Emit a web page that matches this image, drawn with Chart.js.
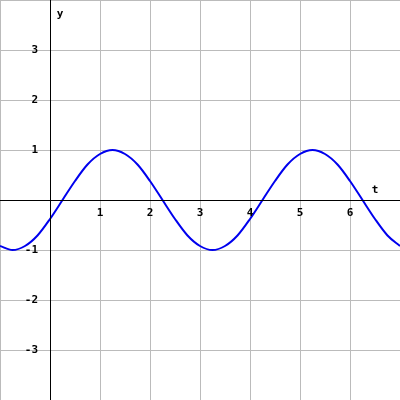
<!DOCTYPE html>
<html>
<head>
<script src="https://cdn.jsdelivr.net/npm/chart.js@4"></script>
<style>
  html, body { margin: 0; padding: 0; background: #fff; }
  #wrap { width: 400px; height: 400px; }
</style>
</head>
<body>
<div id="wrap"><canvas id="chartWave"></canvas></div>
<script>
// t values and y values
const tVals = [-1, -0.75, -0.5, -0.25, 0, 0.25, 0.5, 0.75, 1, 1.25, 1.5, 1.75, 2, 2.25, 2.5, 2.75, 3,
               3.25, 3.5, 3.75, 4, 4.25, 4.5, 4.75, 5, 5.25, 5.5, 5.75, 6, 6.25, 6.5, 6.75, 7];
const yVals = [-0.92, -1, -0.92, -0.71, -0.38, 0, 0.38, 0.71, 0.92, 1, 0.92, 0.71, 0.38, 0, -0.38, -0.71, -0.92,
               -1, -0.92, -0.71, -0.38, 0, 0.38, 0.71, 0.92, 1, 0.92, 0.71, 0.38, 0, -0.38, -0.71, -0.92];
const xTickLabels = [1, 2, 3, 4, 5, 6];
const yTickLabels = [-3, -2, -1, 1, 2, 3];

const points = tVals.map((t, i) => ({ x: t, y: yVals[i] }));

// draw axes and labels inside the plot, like the original
const axesPlugin = {
    id: 'axesInside',
    afterDatasetsDraw(c) {
        const ctx = c.ctx;
        const xs = c.scales.x, ys = c.scales.y;
        const x0 = xs.getPixelForValue(0), y0 = ys.getPixelForValue(0);
        ctx.save();
        ctx.strokeStyle = '#000';
        ctx.lineWidth = 1;
        ctx.beginPath();
        ctx.moveTo(c.chartArea.left, Math.round(y0) + 0.5);
        ctx.lineTo(c.chartArea.right, Math.round(y0) + 0.5);
        ctx.moveTo(Math.round(x0) + 0.5, c.chartArea.top);
        ctx.lineTo(Math.round(x0) + 0.5, c.chartArea.bottom);
        ctx.stroke();
        ctx.fillStyle = '#000';
        ctx.font = 'bold 11px "DejaVu Sans Mono"';
        ctx.textAlign = 'center';
        ctx.textBaseline = 'middle';
        xTickLabels.forEach(v => ctx.fillText(String(v), xs.getPixelForValue(v), y0 + 13));
        ctx.textAlign = 'right';
        yTickLabels.forEach(v => ctx.fillText(String(v), x0 - 12, ys.getPixelForValue(v)));
        ctx.textAlign = 'center';
        ctx.fillText('y', x0 + 10, 14);
        ctx.fillText('t', 375, y0 - 10);
        ctx.restore();
    }
};

new Chart(document.getElementById('chartWave').getContext('2d'), {
    type: 'line',
    data: {
        datasets: [{
            data: points,
            borderColor: '#0000ee',
            borderWidth: 2,
            pointRadius: 0,
            cubicInterpolationMode: 'monotone',
            fill: false
        }]
    },
    options: {
        responsive: true,
        maintainAspectRatio: false,
        animation: false,
        layout: { padding: 0 },
        plugins: { legend: { display: false }, tooltip: { enabled: false } },
        scales: {
            x: {
                type: 'linear', min: -1, max: 7,
                ticks: { display: false, stepSize: 1 },
                grid: { color: '#bbbbbb', drawTicks: false },
                border: { display: false }
            },
            y: {
                min: -4, max: 4,
                ticks: { display: false, stepSize: 1 },
                grid: { color: '#bbbbbb', drawTicks: false },
                border: { display: false }
            }
        }
    },
    plugins: [axesPlugin]
});
</script>
</body>
</html>
